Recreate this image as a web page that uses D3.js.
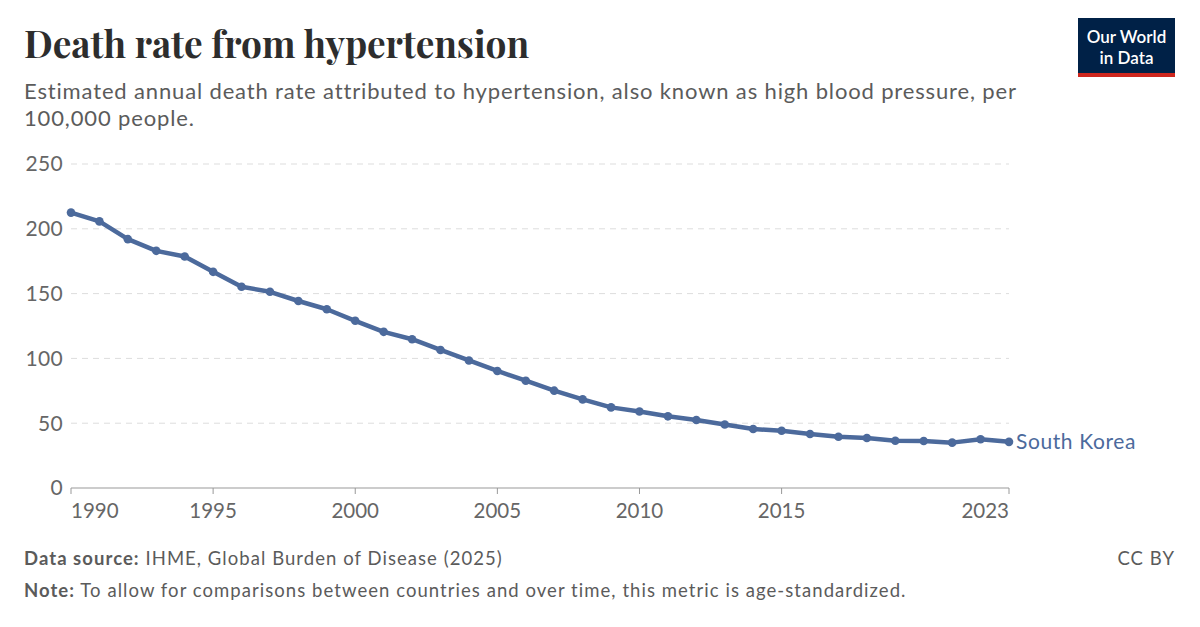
<!DOCTYPE html>
<html>
<head>
<meta charset="utf-8">
<script src="https://cdn.jsdelivr.net/npm/d3@7"></script>
<style>
  body { margin: 0; background: #fff; }
  svg { display: block; font-family: Lato, "Noto Sans", sans-serif; }
</style>
</head>
<body>
<svg id="chart"></svg>
<script>
// values (deaths per 100,000)
var years = d3.range(1990, 2024);
var rates = [212.5, 205.7, 192, 183, 178.6, 166.8, 155.3, 151.4, 144.3, 137.9,
             129, 120.5, 114.8, 106.5, 98.4, 90.3, 82.8, 75.1, 68.4, 62.2,
             59, 55.3, 52.5, 49, 45.5, 44.2, 41.7, 39.5, 38.6, 36.5,
             36.3, 35, 37.6, 35.6];
var entity = "South Korea";
var yTicks = [0, 50, 100, 150, 200, 250];
var xTicks = [1990, 1995, 2000, 2005, 2010, 2015, 2023];

var data = years.map(function(y, i) { return { year: y, value: rates[i] }; });

var W = 1200, H = 627;
var margin = { top: 164, right: 191, bottom: 139, left: 71 },
    width = W - margin.left - margin.right,
    height = H - margin.top - margin.bottom;

var svg = d3.select("#chart").attr("width", W).attr("height", H);

// header
svg.append("text")
  .attr("x", 24).attr("y", 58)
  .style("font-family", "'Playfair Display', 'Liberation Serif', serif")
  .style("font-weight", "bold")
  .style("font-size", "37px")
  .style("fill", "#2d2d2d")
  .text("Death rate from hypertension");

var sub = svg.append("text")
  .style("font-size", "22px")
  .style("letter-spacing", "0.85px")
  .style("fill", "#5b5b5b");
sub.append("tspan").attr("x", 24).attr("y", 99)
  .text("Estimated annual death rate attributed to hypertension, also known as high blood pressure, per");
sub.append("tspan").attr("x", 24).attr("y", 126).text("100,000 people.");

// logo
var logo = svg.append("g").attr("transform", "translate(1078,18)");
logo.append("rect").attr("width", 97).attr("height", 59).style("fill", "#002147");
logo.append("rect").attr("y", 55).attr("width", 97).attr("height", 4).style("fill", "#ce261e");
logo.append("text").attr("x", 48.5).attr("y", 25).attr("text-anchor", "middle")
  .style("fill", "#fff").style("font-size", "17px").style("font-weight", "600")
  .text("Our World");
logo.append("text").attr("x", 48.5).attr("y", 46).attr("text-anchor", "middle")
  .style("fill", "#fff").style("font-size", "17px").style("font-weight", "600")
  .text("in Data");

var g = svg.append("g")
  .attr("transform", "translate(" + margin.left + "," + margin.top + ")");

var x = d3.scaleLinear().domain([1990, 2023]).range([0, width]);
var y = d3.scaleLinear().domain([0, 250]).range([height, 0]);

// grid
g.selectAll(".grid").data(yTicks.filter(function(d) { return d > 0; }))
  .enter().append("line")
  .attr("x1", 0).attr("x2", width)
  .attr("y1", function(d) { return y(d); }).attr("y2", function(d) { return y(d); })
  .style("stroke", "#dddddd")
  .style("stroke-dasharray", "6,5");

// y labels
g.selectAll(".ylab").data(yTicks).enter().append("text")
  .attr("x", -8).attr("y", function(d) { return y(d); })
  .attr("dy", "0.35em")
  .attr("text-anchor", "end")
  .style("font-size", "21px")
  .style("letter-spacing", "0.3px")
  .style("fill", "#666")
  .text(function(d) { return d; });

// x axis
g.append("line")
  .attr("x1", 0).attr("x2", width)
  .attr("y1", height).attr("y2", height)
  .style("stroke", "#999");
g.selectAll(".xtick").data(xTicks).enter().append("line")
  .attr("x1", function(d) { return x(d); }).attr("x2", function(d) { return x(d); })
  .attr("y1", height).attr("y2", height + 6)
  .style("stroke", "#999");
g.selectAll(".xlab").data(xTicks).enter().append("text")
  .attr("x", function(d) { return x(d); })
  .attr("y", height + 30)
  .attr("text-anchor", function(d, i) {
    return i === 0 ? "start" : (i === xTicks.length - 1 ? "end" : "middle");
  })
  .style("font-size", "20.5px")
  .style("fill", "#666")
  .text(function(d) { return d; });

// line + markers
var color = "#4c6a9c";
var line = d3.line()
  .x(function(d) { return x(d.year); })
  .y(function(d) { return y(d.value); });

g.append("path").datum(data)
  .attr("d", line)
  .style("fill", "none")
  .style("stroke", color)
  .style("stroke-width", 4.5)
  .style("stroke-linejoin", "round");

g.selectAll(".dot").data(data).enter().append("circle")
  .attr("cx", function(d) { return x(d.year); })
  .attr("cy", function(d) { return y(d.value); })
  .attr("r", 4.3)
  .style("fill", color);

var last = data[data.length - 1];
g.append("text")
  .attr("x", x(last.year) + 7)
  .attr("y", y(last.value))
  .attr("dy", "0.35em")
  .style("font-size", "21px")
  .style("letter-spacing", "0.6px")
  .style("fill", color)
  .text(entity);

// footer
var src = svg.append("text").attr("x", 24).attr("y", 565)
  .style("font-size", "18.5px").style("letter-spacing", "1.05px").style("fill", "#5b5b5b");
src.append("tspan").style("font-weight", "bold").text("Data source:");
src.append("tspan").text(" IHME, Global Burden of Disease (2025)");

svg.append("text").attr("x", 1175).attr("y", 565)
  .attr("text-anchor", "end")
  .style("font-size", "18.5px").style("letter-spacing", "1.05px").style("fill", "#5b5b5b")
  .text("CC BY");

var note = svg.append("text").attr("x", 24).attr("y", 597)
  .style("font-size", "18.5px").style("letter-spacing", "1.05px").style("fill", "#5b5b5b");
note.append("tspan").style("font-weight", "bold").text("Note:");
note.append("tspan").text(" To allow for comparisons between countries and over time, this metric is age-standardized.");
</script>
</body>
</html>
